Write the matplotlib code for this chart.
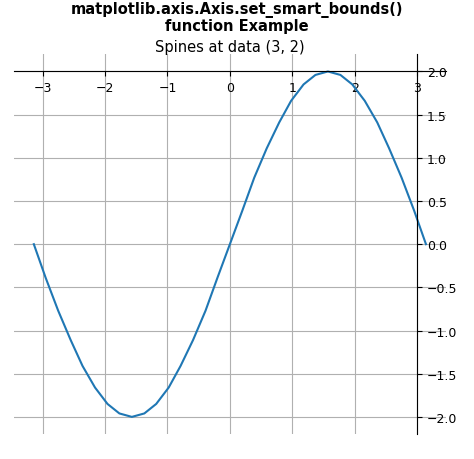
import matplotlib
matplotlib.use("Agg")
import matplotlib.pyplot as plt

## Curve values
x_vals = [-3.14, -2.95, -2.75, -2.55, -2.36, -2.16, -1.96, -1.77, -1.57,
          -1.37, -1.18, -0.98, -0.79, -0.59, -0.39, -0.20, 0.0,
          0.20, 0.39, 0.59, 0.79, 0.98, 1.18, 1.37, 1.57,
          1.77, 1.96, 2.16, 2.36, 2.55, 2.75, 2.95, 3.14]
y_vals = [0.0, -0.39, -0.77, -1.11, -1.41, -1.66, -1.85, -1.96, -2.0,
          -1.96, -1.85, -1.66, -1.41, -1.11, -0.77, -0.39, 0.0,
          0.39, 0.77, 1.11, 1.41, 1.66, 1.85, 1.96, 2.0,
          1.96, 1.85, 1.66, 1.41, 1.11, 0.77, 0.39, 0.0]

fig = plt.figure(figsize=(4.74, 4.6), dpi=100)
ax = fig.add_axes([0.03, 0.054, 0.91, 0.826])
ax.plot(x_vals, y_vals, color="#1f77b4")

## Spines at data (3, 2)
ax.spines["left"].set_visible(False)
ax.spines["top"].set_visible(False)
ax.spines["right"].set_position(("data", 3))
ax.spines["bottom"].set_position(("data", 2))
ax.yaxis.tick_right()
ax.set_xticks([-3, -2, -1, 0, 1, 2, 3])
ax.set_yticks([-2.0, -1.5, -1.0, -0.5, 0.0, 0.5, 1.0, 1.5, 2.0])
ax.tick_params(labelsize=9)
ax.grid(True)

fig.suptitle("matplotlib.axis.Axis.set_smart_bounds()\nfunction Example",
             fontweight="bold", fontsize=10.5, y=0.995, linespacing=1.1)
ax.set_title("Spines at data (3, 2)", fontsize=10.5, pad=2)

fig.savefig("out.png", dpi=100)
